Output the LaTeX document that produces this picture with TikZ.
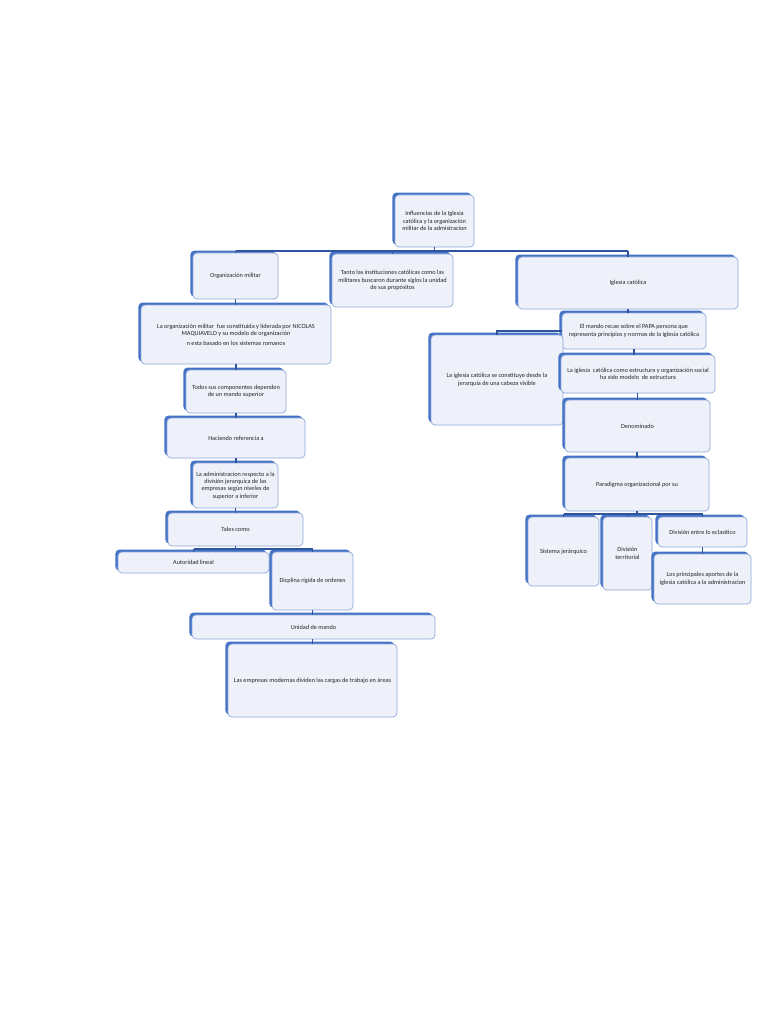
\documentclass[tikz,border=0pt]{standalone}
\usepackage{fontspec}
\setmainfont{Carlito}
\usetikzlibrary{shadows}

\definecolor{boxfill}{HTML}{EEF1F9}
\definecolor{boxline}{HTML}{8EA9DB}
\definecolor{boxedge}{HTML}{4472C4}
\definecolor{linkcol}{HTML}{2F55A0}
\definecolor{txtcol}{HTML}{262626}

\tikzset{
        box/.style={draw=boxline, line width=0.5pt, fill=boxfill, rounded corners=0.1cm,
                align=center, inner sep=1pt, outer sep=0pt, text=txtcol,
                font=\fontsize{4.45}{5.2}\selectfont,
                drop shadow={shadow xshift=-0.065cm, shadow yshift=0.06cm, fill=boxedge, opacity=1}},
        sz/.style 2 args={minimum width=#1*0.025cm, minimum height=#2*0.025cm},
        link/.style={draw=linkcol, line width=0.75pt}
}

\begin{document}
\begin{tikzpicture}[x=0.025cm, y=-0.025cm]
        \fill[white] (0,0) rectangle (768,1024);

        % columna central y militar
        \node[box, sz={79}{52}] (root) at (434.5,221) {Influencias de la Iglesia\\católica y la organización\\militar de la admistracion};
        \node[box, sz={85}{46}] (org) at (235.5,276) {Organización militar};
        \node[box, sz={121}{53}] (tanto) at (392.5,280.5) {Tanto las instituciones católicas como las\\militares buscaron durante siglos la unidad\\de sus propósitos};
        \node[box, sz={220}{52}] (igl) at (628,283) {Iglesia católica};
        \node[box, sz={190}{59}] (maq) at (236,334.5) {La organización militar\ \ fue constituida y liderada por NICOLAS\\MAQUIAVELO y su modelo de organización\\[1.5pt]n esta basado en los sistemas romanos};
        \node[box, sz={100}{43}] (todos) at (236,391.5) {Todos sus componentes dependen\\de un mando superior};
        \node[box, sz={138}{40}] (haciendo) at (236,438) {Haciendo referencia a};
        \node[box, sz={85}{45}] (admin) at (235.5,485.5) {La administracion respecto a la\\división jerarquica de las\\empresas según niveles de\\superior a inferior};
        \node[box, sz={135}{33}] (tales) at (235.5,529.5) {Tales como};
        \node[box, sz={151}{21}] (autor) at (193.5,562.5) {Autoridad lineal};
        \node[box, sz={81}{58}] (discip) at (312.5,581) {Dicplina rígida de ordenes};
        \node[box, sz={243}{24}] (unidad) at (313.5,627) {Unidad de mando};
        \node[box, sz={169}{73}] (empresas) at (312.5,680.5) {Las empresas modernas dividen las cargas de trabajo en áreas};

        % iglesia
        \node[box, sz={144}{36}] (mando) at (634,331) {El mando recae sobre el PAPA persona que\\representa principios y normas de la iglesia católica};
        \node[box, sz={132}{90}] (cabeza) at (497,380) {La iglesia católica se constituye desde la\\jerarquía de una cabeza visible};
        \node[box, sz={154}{38}] (modelo) at (638,374) {La iglesia\ \ católica como estructura y organización social\\ha sido modelo\ \ de estructura};
        \node[box, sz={145}{52}] (denom) at (637.5,426) {Denominado};
        \node[box, sz={144}{53}] (paradig) at (637,484.5) {Paradigma organizacional por su};
        \node[box, sz={71}{69}] (sistema) at (563.5,551.5) {Sistema jerárquico};
        \node[box, sz={49}{73}] (territ) at (627.5,553.5) {División\\territorial};
        \node[box, sz={89}{30}] (eclas) at (702.5,532) {División entre lo eclasitico};
        \node[box, sz={97}{50}] (aportes) at (702.5,579) {Los principales aportes de la\\iglesia católica a la administracion};

        \coordinate (bus1) at (434.5,251);
        \coordinate (bus2) at (235.5,549);
        \coordinate (bus3) at (637,514);

        \draw[link] (root.south) -- (bus1)
                (org.north |- bus1) -- (igl.north |- bus1)
                (org.north |- bus1) -- (org.north)
                (tanto.north |- bus1) -- (tanto.north)
                (igl.north |- bus1) -- (igl.north);
        \draw[link] (org.south) -- (org.south |- maq.north)
                (todos.north |- maq.south) -- (todos.north)
                (todos.south) -- (todos.south |- haciendo.north)
                (haciendo.south) -- (haciendo.south |- admin.north)
                (admin.south) -- (admin.south |- tales.north);
        \draw[link] (tales.south) -- (bus2)
                (autor.north |- bus2) -- (discip.north |- bus2)
                (autor.north |- bus2) -- (autor.north)
                (discip.north |- bus2) -- (discip.north)
                (discip.south) -- (discip.south |- unidad.north)
                (discip.south |- unidad.south) -- (discip.south |- empresas.north);
        \draw[link] (igl.south) -- (igl.south |- mando.north)
                (mando.west) -| (cabeza.north)
                (mando.south) -- (mando.south |- modelo.north)
                (denom.north |- modelo.south) -- (denom.north)
                (paradig.north |- denom.south) -- (paradig.north);
        \draw[link] (paradig.south) -- (bus3)
                (sistema.north |- bus3) -- (eclas.north |- bus3)
                (sistema.north |- bus3) -- (sistema.north)
                (territ.north |- bus3) -- (territ.north)
                (eclas.north |- bus3) -- (eclas.north)
                (eclas.south) -- (aportes.north);
\end{tikzpicture}
\end{document}
